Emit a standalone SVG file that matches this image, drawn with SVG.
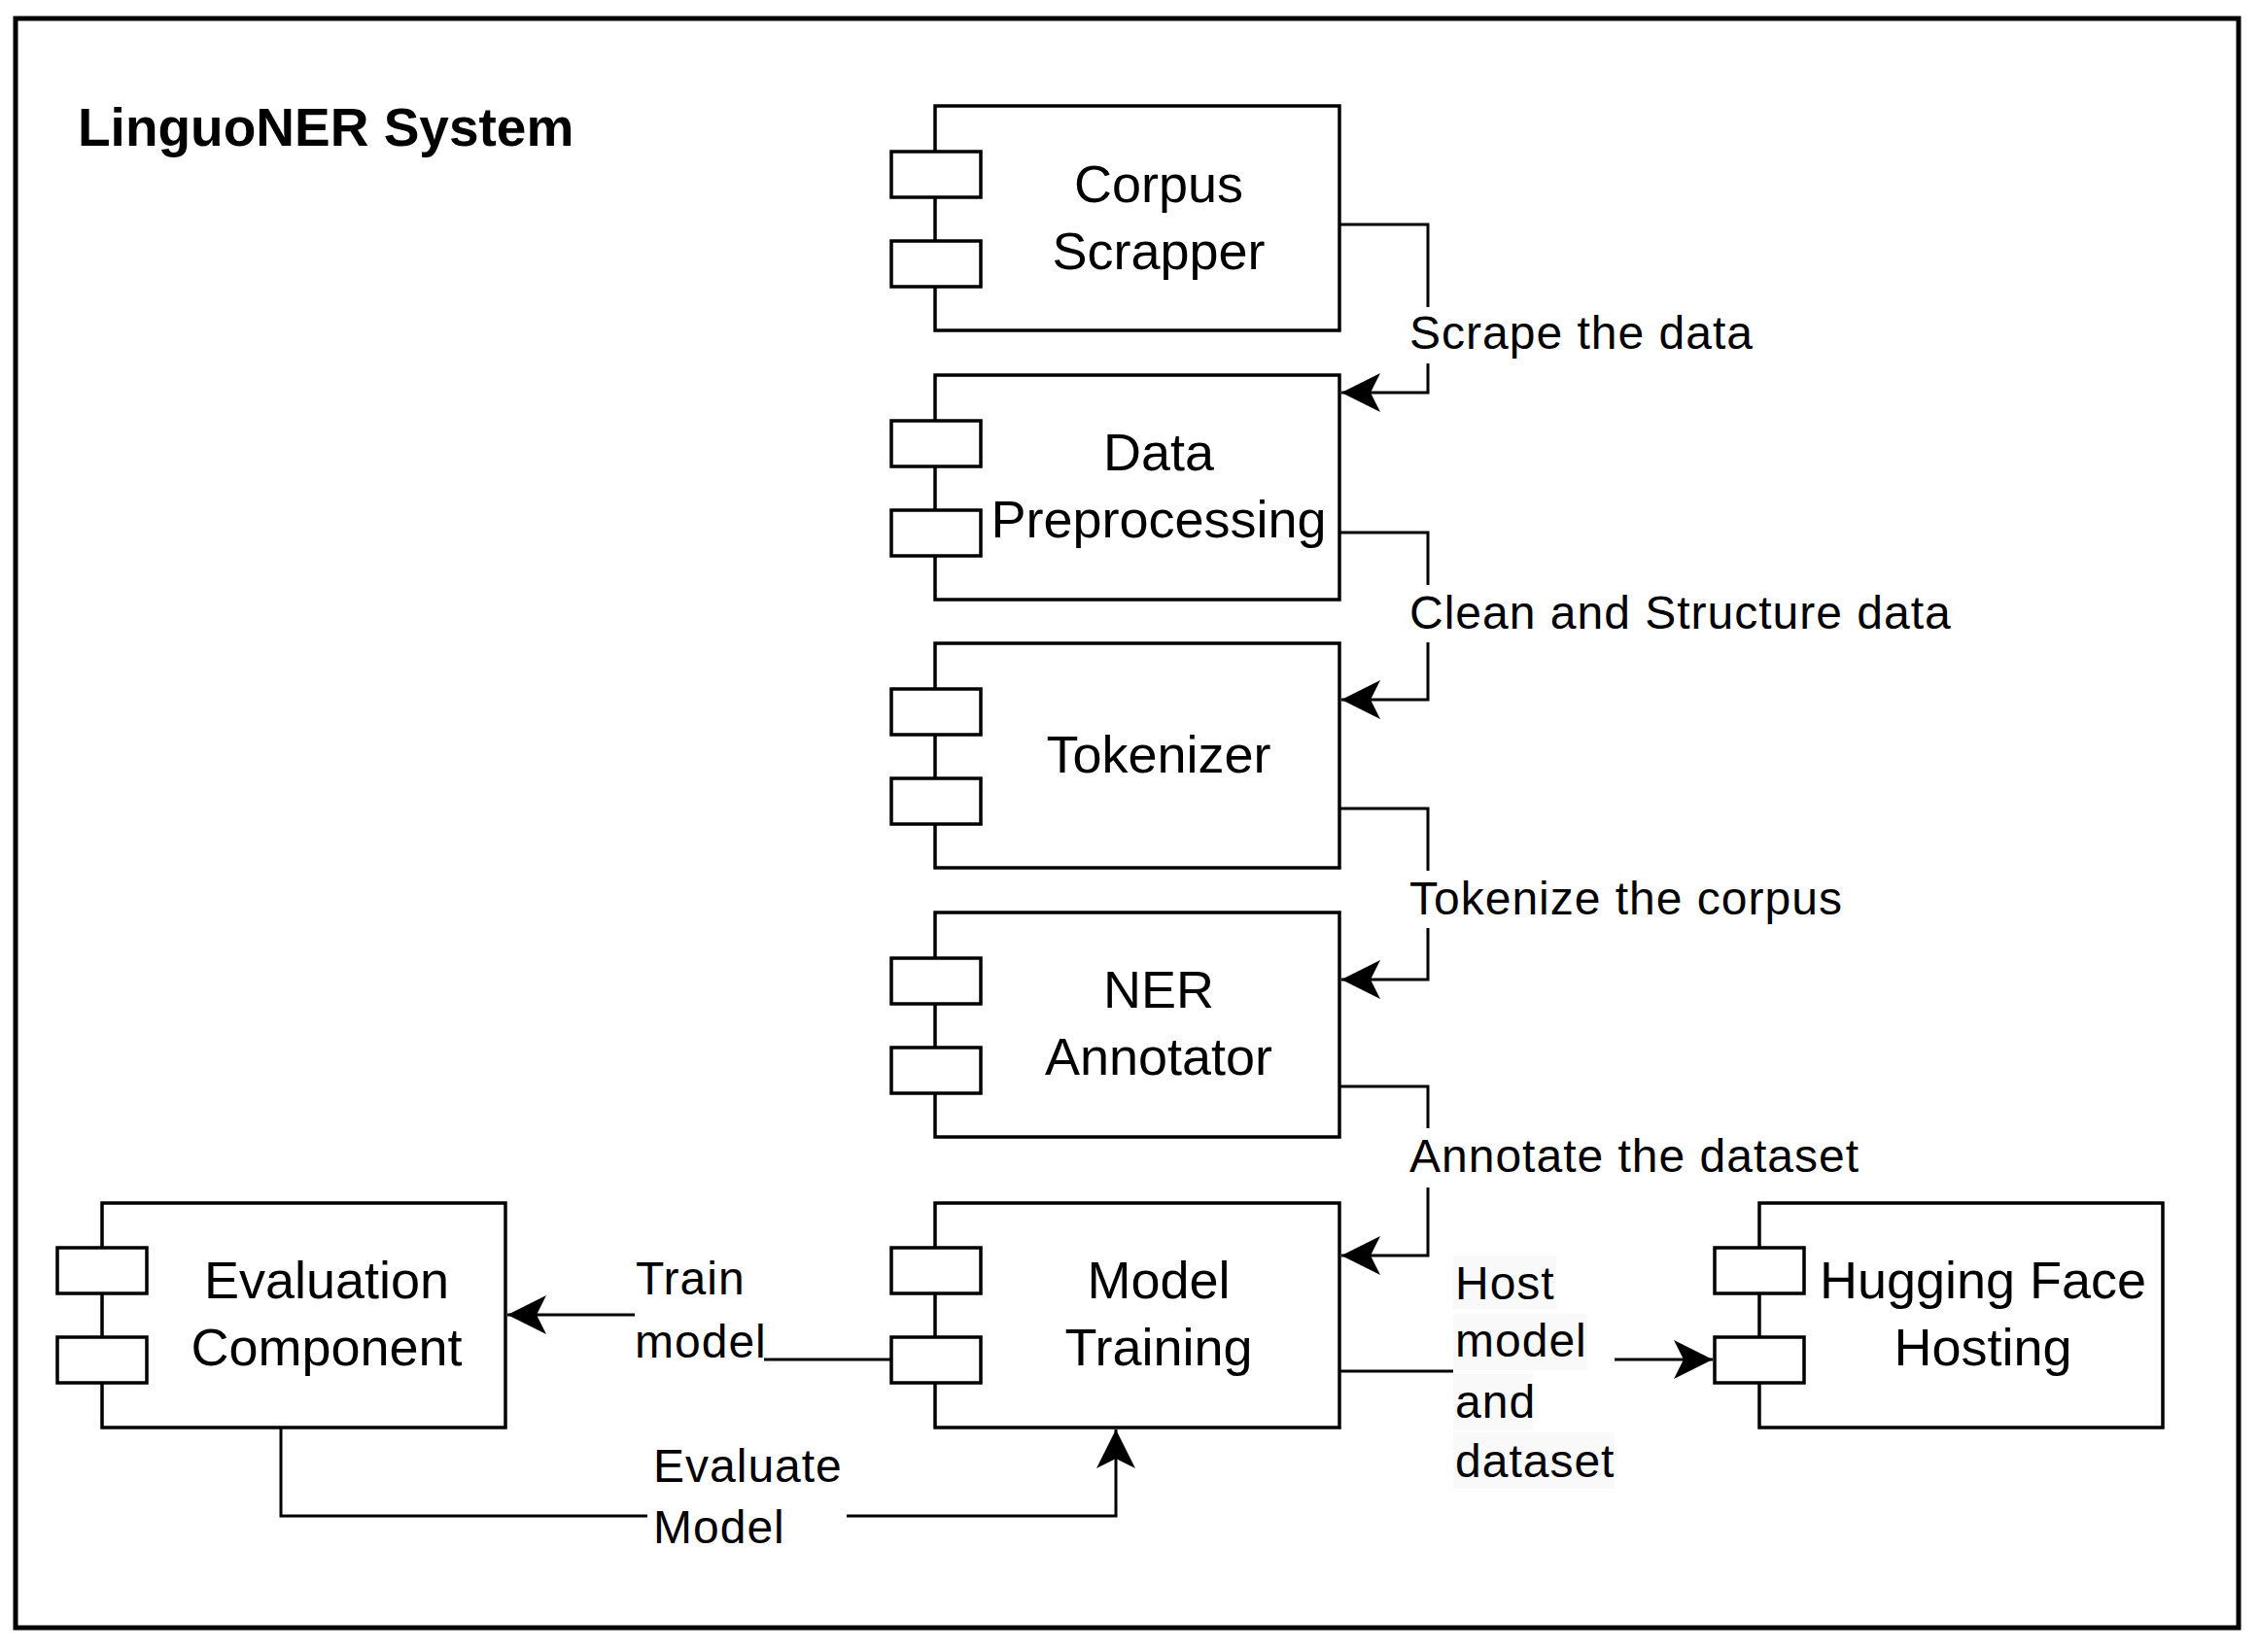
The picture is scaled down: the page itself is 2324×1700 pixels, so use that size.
<svg xmlns="http://www.w3.org/2000/svg" width="2324" height="1700" viewBox="0 0 2324 1700">
<style>
.box{fill:#fff;stroke:#000;stroke-width:3.5}
.port{fill:#fff;stroke:#000;stroke-width:3.5}
.lbl{font-family:"Liberation Sans",Arial,sans-serif;font-size:54px;fill:#000;text-anchor:middle}
.elbl{font-family:"Liberation Sans",Arial,sans-serif;font-size:48px;letter-spacing:1px;fill:#000}
.edge{fill:none;stroke:#000;stroke-width:3}
.bg{fill:#fff}
.bg2{fill:#f9f9f9}
</style>
<defs>
<marker id="arr" markerUnits="userSpaceOnUse" markerWidth="42" markerHeight="42" refX="40" refY="20" orient="auto" overflow="visible">
<path d="M0,0 L40,20 L0,40 L10,20 Z" fill="#000"/>
</marker>
</defs>
<rect x="0" y="0" width="2324" height="1700" fill="#fff"/>
<rect id="frame" x="16" y="19" width="2287" height="1656" fill="none" stroke="#000" stroke-width="5"/>
<text x="80" y="150" font-family="'Liberation Sans',Arial,sans-serif" font-size="55" font-weight="bold" fill="#000">LinguoNER System</text>

<g id="connectors">
<path class="edge" d="M1378,231 H1469 V404 H1380" marker-end="url(#arr)"/>
<path class="edge" d="M1378,548 H1469 V720 H1380" marker-end="url(#arr)"/>
<path class="edge" d="M1378,832 H1469 V1008 H1380" marker-end="url(#arr)"/>
<path class="edge" d="M1378,1118 H1469 V1292 H1380" marker-end="url(#arr)"/>
<path class="edge" d="M917,1399 H720 V1353 H522" marker-end="url(#arr)"/>
<path class="edge" d="M289,1469 V1560 H1148 V1471" marker-end="url(#arr)"/>
<path class="edge" d="M1378,1411 H1578 V1399 H1762" marker-end="url(#arr)"/>

<rect class="bg" x="1447" y="316" width="362" height="58"/>
<text class="elbl" x="1450" y="359">Scrape the data</text>
<rect class="bg" x="1447" y="602" width="568" height="59"/>
<text class="elbl" x="1450" y="647">Clean and Structure data</text>
<rect class="bg" x="1447" y="896" width="454" height="59"/>
<text class="elbl" x="1450" y="941">Tokenize the corpus</text>
<rect class="bg" x="1447" y="1161" width="472" height="61"/>
<text class="elbl" x="1450" y="1206">Annotate the dataset</text>

<rect class="bg" x="653" y="1288" width="133" height="122"/>
<text class="elbl" x="654" y="1332">Train</text>
<text class="elbl" x="653" y="1397">model</text>

<rect class="bg" x="666" y="1486" width="205" height="116"/>
<text class="elbl" x="672" y="1525">Evaluate</text>
<text class="elbl" x="672" y="1588">Model</text>

<rect class="bg" x="1495" y="1288" width="166" height="248"/>
<rect class="bg2" x="1495" y="1292" width="106" height="55"/>
<rect class="bg2" x="1495" y="1352" width="138" height="58"/>
<rect class="bg2" x="1495" y="1414" width="82" height="58"/>
<rect class="bg2" x="1495" y="1474" width="166" height="58"/>
<text class="elbl" x="1497" y="1337">Host</text>
<text class="elbl" x="1497" y="1396">model</text>
<text class="elbl" x="1497" y="1459">and</text>
<text class="elbl" x="1497" y="1520">dataset</text>
</g>

<g id="corpus-scrapper">
<rect class="box" x="962" y="109" width="416" height="231"/>
<rect class="port" x="917" y="156" width="92" height="47"/>
<rect class="port" x="917" y="248" width="92" height="47"/>
<text class="lbl" x="1192" y="208">Corpus</text>
<text class="lbl" x="1192" y="277">Scrapper</text>
</g>

<g id="data-preprocessing">
<rect class="box" x="962" y="386" width="416" height="231"/>
<rect class="port" x="917" y="433" width="92" height="47"/>
<rect class="port" x="917" y="525" width="92" height="47"/>
<text class="lbl" x="1192" y="484">Data</text>
<text class="lbl" x="1192" y="553">Preprocessing</text>
</g>

<g id="tokenizer">
<rect class="box" x="962" y="662" width="416" height="231"/>
<rect class="port" x="917" y="709" width="92" height="47"/>
<rect class="port" x="917" y="801" width="92" height="47"/>
<text class="lbl" x="1192" y="795">Tokenizer</text>
</g>

<g id="ner-annotator">
<rect class="box" x="962" y="939" width="416" height="231"/>
<rect class="port" x="917" y="986" width="92" height="47"/>
<rect class="port" x="917" y="1078" width="92" height="47"/>
<text class="lbl" x="1192" y="1037">NER</text>
<text class="lbl" x="1192" y="1106">Annotator</text>
</g>

<g id="model-training">
<rect class="box" x="962" y="1238" width="416" height="231"/>
<rect class="port" x="917" y="1284" width="92" height="47"/>
<rect class="port" x="917" y="1376" width="92" height="47"/>
<text class="lbl" x="1192" y="1336">Model</text>
<text class="lbl" x="1192" y="1405">Training</text>
</g>

<g id="evaluation-component">
<rect class="box" x="105" y="1238" width="415" height="231"/>
<rect class="port" x="59" y="1284" width="92" height="47"/>
<rect class="port" x="59" y="1376" width="92" height="47"/>
<text class="lbl" x="336" y="1336">Evaluation</text>
<text class="lbl" x="336" y="1405">Component</text>
</g>

<g id="hugging-face-hosting">
<rect class="box" x="1810" y="1238" width="415" height="231"/>
<rect class="port" x="1764" y="1284" width="92" height="47"/>
<rect class="port" x="1764" y="1376" width="92" height="47"/>
<text class="lbl" x="2040" y="1336">Hugging Face</text>
<text class="lbl" x="2040" y="1405">Hosting</text>
</g>
</svg>
